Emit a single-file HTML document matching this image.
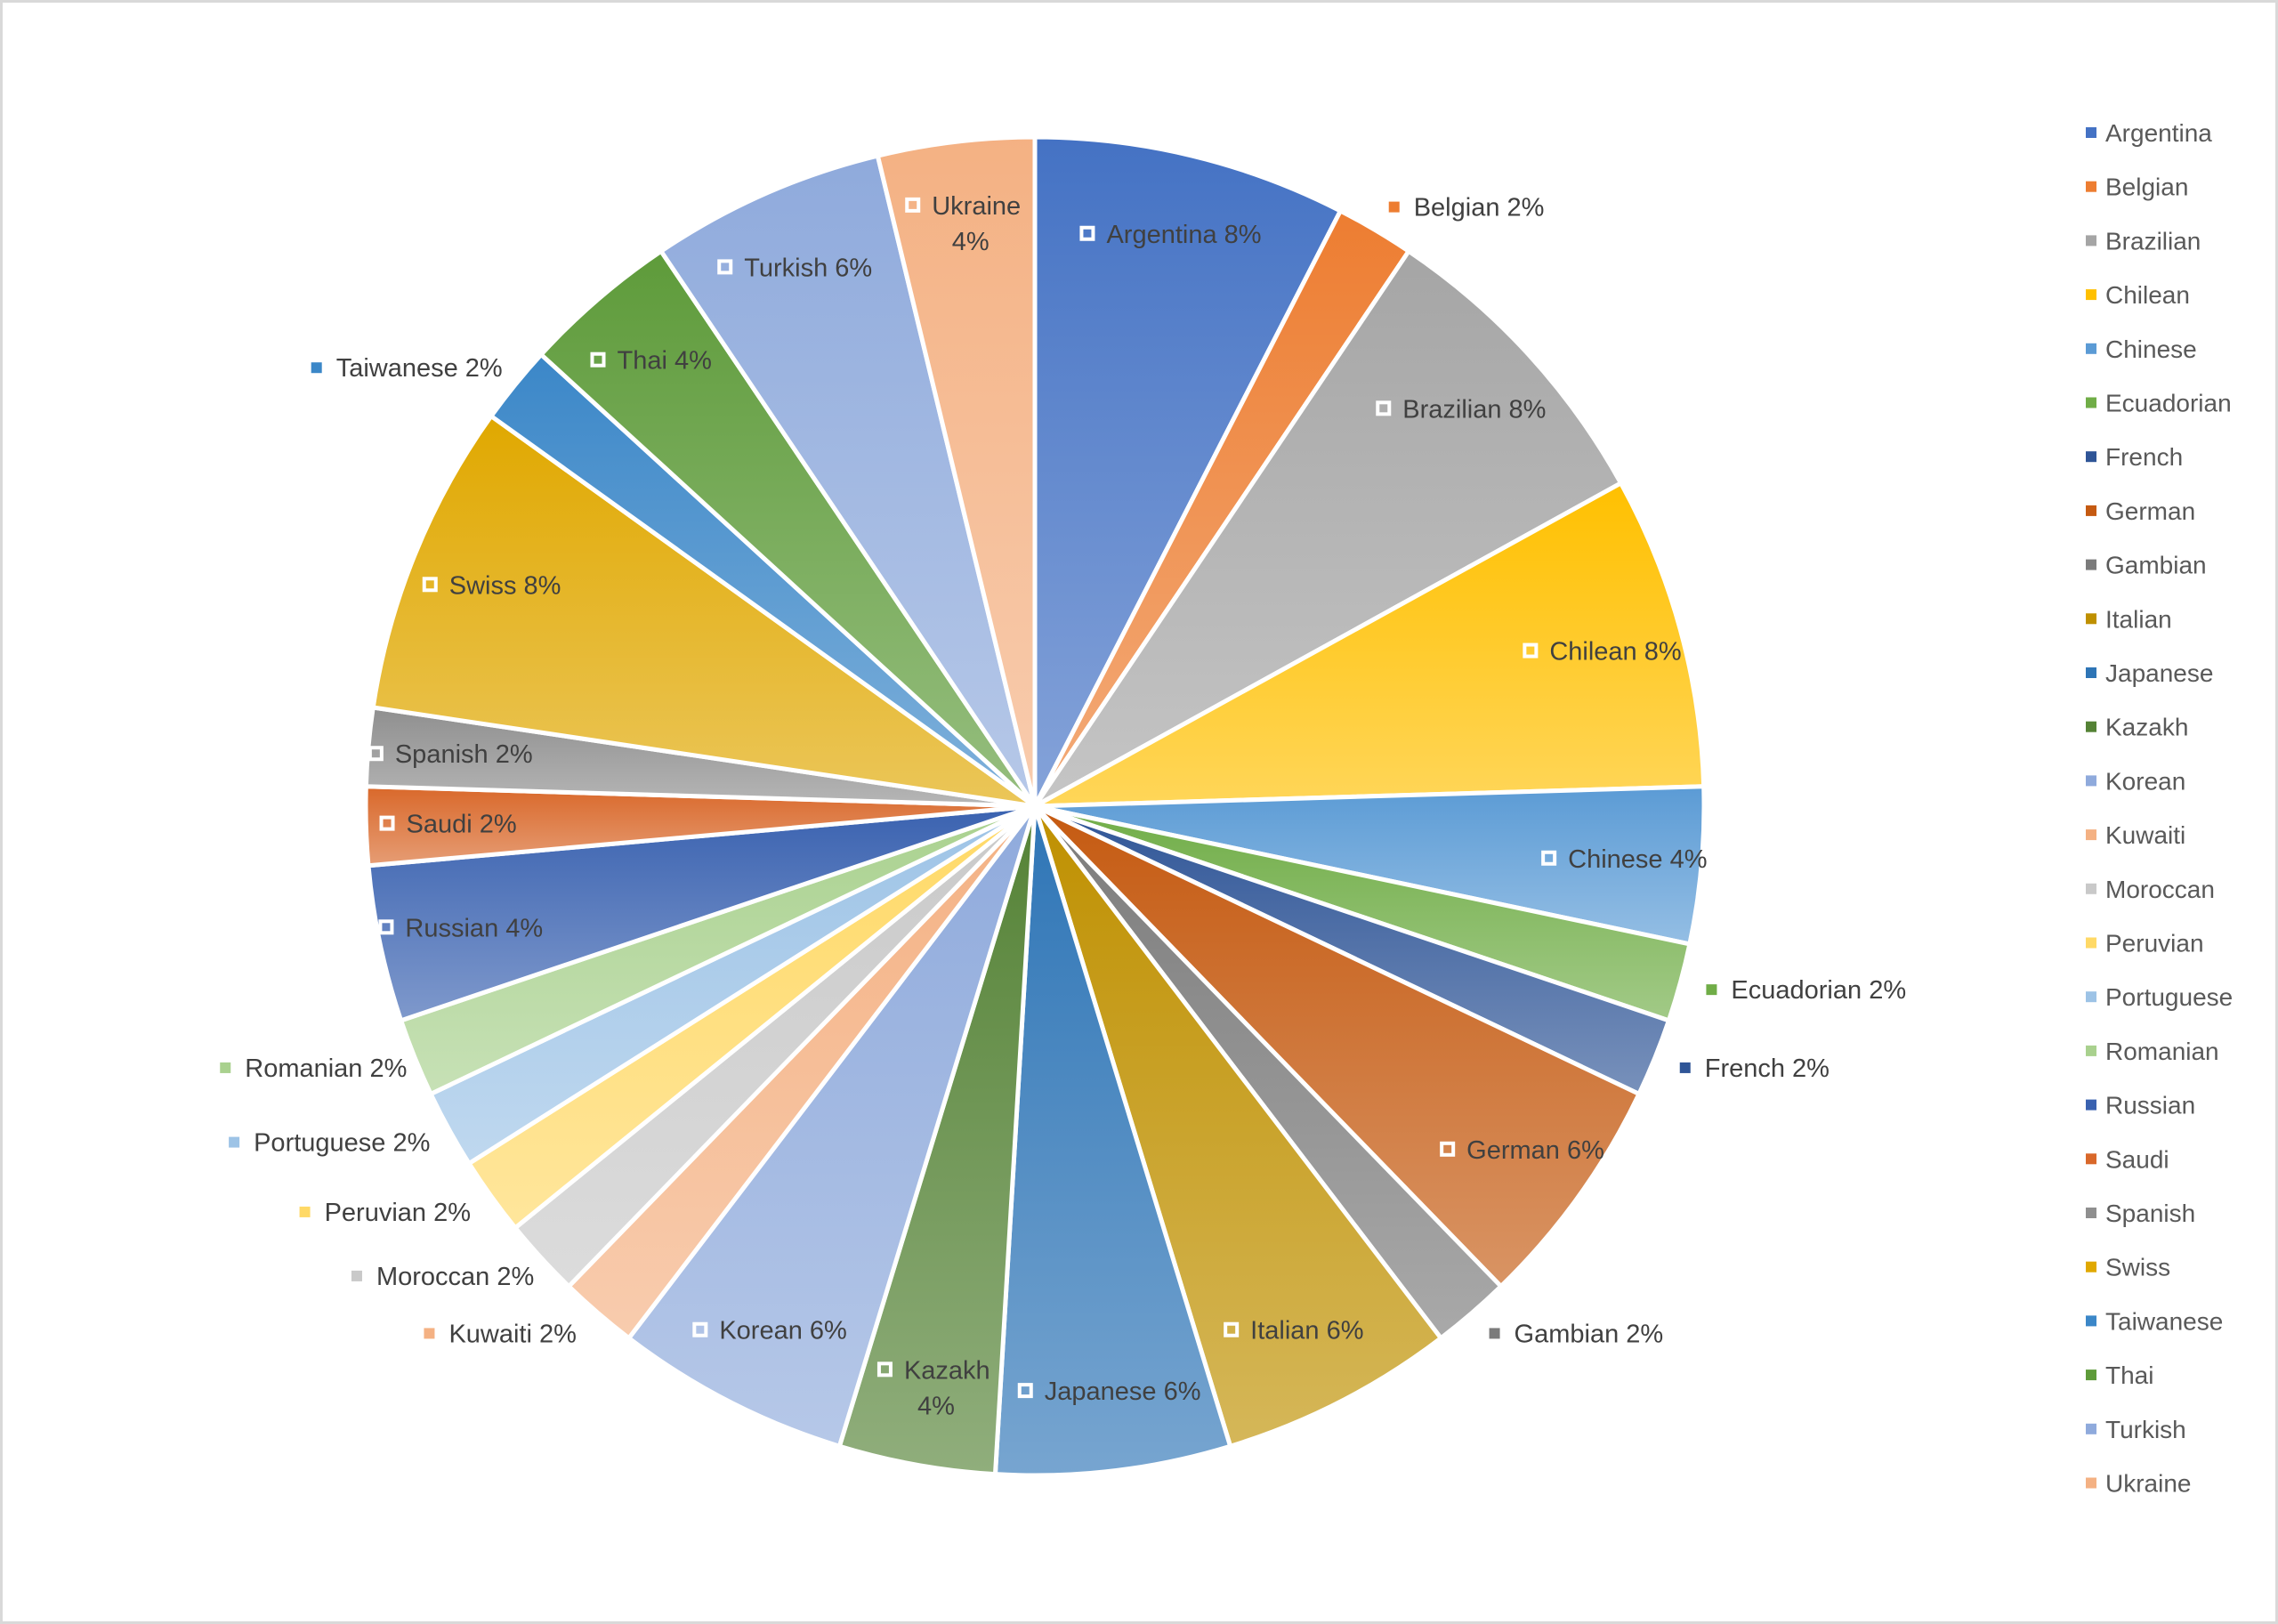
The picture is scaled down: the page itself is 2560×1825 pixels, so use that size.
<!DOCTYPE html>
<html><head><meta charset="utf-8"><style>
html,body{margin:0;padding:0;background:#fff;}
svg{display:block;font-family:"Liberation Sans",Arial,sans-serif;}
</style></head><body>
<svg id="chart" width="2560" height="1825" viewBox="0 0 2560 1825" xmlns="http://www.w3.org/2000/svg">
<rect x="1.5" y="1.5" width="2557" height="1822" fill="#fff" stroke="#d9d9d9" stroke-width="3"/>
<defs id="defs"></defs>
<g id="slices"></g>
<g id="labels"></g>
<g id="legend"></g>
</svg>
<script>
const categories = ["Argentina","Belgian","Brazilian","Chilean","Chinese","Ecuadorian","French","German","Gambian","Italian","Japanese","Kazakh","Korean","Kuwaiti","Moroccan","Peruvian","Portuguese","Romanian","Russian","Saudi","Spanish","Swiss","Taiwanese","Thai","Turkish","Ukraine"];
const values = [4,1,4,4,2,1,1,3,1,3,3,2,3,1,1,1,1,1,2,1,1,4,1,2,3,2];
const labelInside = [1,0,1,1,1,0,0,1,0,1,1,1,1,0,0,0,0,0,1,1,1,1,0,1,1,1];
const labelWrap = ["Ukraine","Kazakh"];
const colors = ["#4472C4","#ED7D31","#A5A5A5","#FFC000","#5B9BD5","#70AD47","#2F5597","#C55A11","#7B7B7B","#BF9000","#2E75B6","#548235","#8FAADC","#F4B183","#C9C9C9","#FFD966","#9DC3E6","#A9D18E","#3A62B0","#D9682A","#8F8F8F","#E0A800","#3B87C8","#5E9B3A","#8FAADC","#F4B183"];
const NS="http://www.w3.org/2000/svg";
const cx=1163, cy=906, R=752;
const total=values.reduce((a,b)=>a+b,0);
function lighten(hex,f){const n=parseInt(hex.slice(1),16);let r=n>>16,g=(n>>8)&255,b=n&255;
 r=Math.round(r+(255-r)*f);g=Math.round(g+(255-g)*f);b=Math.round(b+(255-b)*f);return `rgb(${r},${g},${b})`;}
function pt(a,r){return [cx+r*Math.sin(a), cy-r*Math.cos(a)];}
const defs=document.getElementById('defs'), gS=document.getElementById('slices'), gL=document.getElementById('labels'), gG=document.getElementById('legend');
let acc=0;
values.forEach((v,i)=>{
 const a0=acc/total*2*Math.PI; acc+=v; const a1=acc/total*2*Math.PI;
 const grad=document.createElementNS(NS,'linearGradient');
 grad.setAttribute('id','g'+i);grad.setAttribute('x1','0');grad.setAttribute('y1','0');grad.setAttribute('x2','0');grad.setAttribute('y2','1');
 grad.innerHTML=`<stop offset="0" stop-color="${colors[i]}"/><stop offset="1" stop-color="${lighten(colors[i],0.35)}"/>`;
 defs.appendChild(grad);
 const p0=pt(a0,R),p1=pt(a1,R);
 const path=document.createElementNS(NS,'path');
 path.setAttribute('d',`M${cx},${cy}L${p0[0]},${p0[1]}A${R},${R} 0 ${(a1-a0)>Math.PI?1:0} 1 ${p1[0]},${p1[1]}Z`);
 path.setAttribute('fill',`url(#g${i})`);path.setAttribute('stroke','#fff');path.setAttribute('stroke-width','5');
 
 
 gS.appendChild(path);
 const am=(a0+a1)/2, pct=Math.round(v/total*100)+'%';
 const inside=labelInside[i]===1;
 const lbl=document.createElementNS(NS,'g');
 
 
 const fs=29;
 const wrap=labelWrap.includes(categories[i]);
 const text=categories[i]+' '+pct;
 const tw=(wrap?categories[i].length:text.length)*15, box=16;
 const totalW=box+10+tw;
 let lx,ly,x0;
 if(inside){[lx,ly]=pt(am,R*0.88);x0=lx-totalW/2;}
 else{[lx,ly]=pt(am,R*1.04);x0=Math.sin(am)>=0?lx:lx-totalW;}
 if(wrap) ly-=18;
 const sq=document.createElementNS(NS,'rect');
 if(inside){sq.setAttribute('x',x0);sq.setAttribute('y',ly-7);sq.setAttribute('width',13);sq.setAttribute('height',13);sq.setAttribute('fill','none');sq.setAttribute('stroke','#fff');sq.setAttribute('stroke-width','4');}
 else{sq.setAttribute('x',x0);sq.setAttribute('y',ly-6);sq.setAttribute('width',12);sq.setAttribute('height',12);sq.setAttribute('fill',colors[i]);}
 lbl.appendChild(sq);
 const t=document.createElementNS(NS,'text');
 t.setAttribute('x',x0+box+12);t.setAttribute('y',ly+10);t.setAttribute('font-size',fs);t.setAttribute('fill','#404040');
 t.textContent=wrap?categories[i]:text;lbl.appendChild(t);
 if(wrap){const t2=document.createElementNS(NS,'text');
  t2.setAttribute('x',x0+totalW/2+6);t2.setAttribute('y',ly+50);t2.setAttribute('font-size',fs);t2.setAttribute('fill','#404040');t2.setAttribute('text-anchor','middle');
  t2.textContent=pct;lbl.appendChild(t2);}
 gL.appendChild(lbl);
 const ly2=149+i*60.7;
 const le=document.createElementNS(NS,'g');
 
 
 const m=document.createElementNS(NS,'rect');
 m.setAttribute('x',2344);m.setAttribute('y',ly2-6);m.setAttribute('width',12);m.setAttribute('height',12);m.setAttribute('fill',colors[i]);
 le.appendChild(m);
 const lt=document.createElementNS(NS,'text');
 lt.setAttribute('x',2366);lt.setAttribute('y',ly2+10);lt.setAttribute('font-size',28);lt.setAttribute('fill','#595959');
 lt.textContent=categories[i];le.appendChild(lt);
 gG.appendChild(le);
});
</script>
</body></html>
